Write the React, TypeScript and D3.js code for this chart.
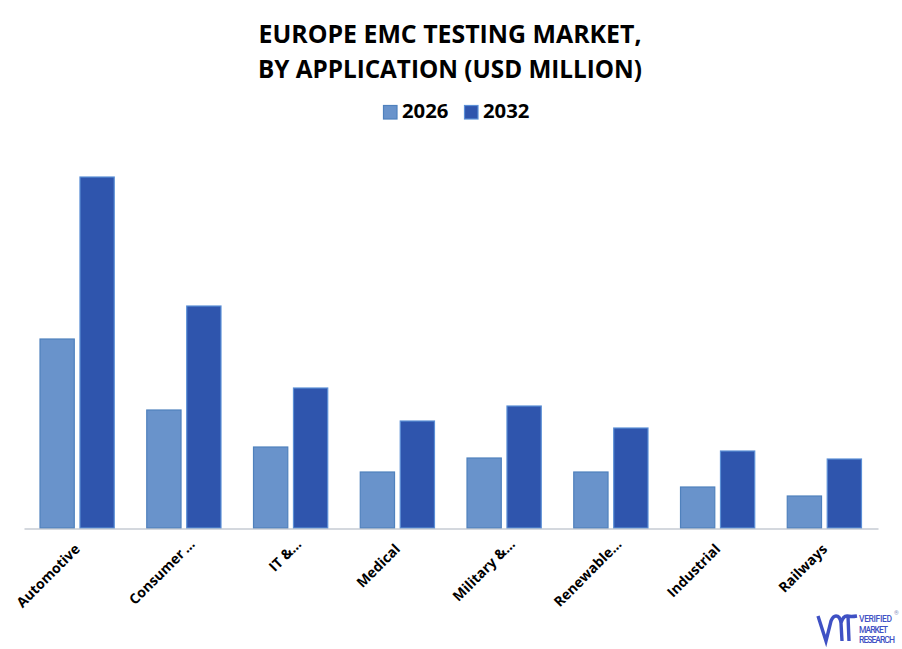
import React, { useEffect, useRef } from "react";
import * as d3 from "d3";

const categories = ["Automotive", "Consumer\u2009…", "IT &…", "Medical", "Military &…", "Renewable…", "Industrial", "Railways"];
const years = ["2026", "2032"];
const values2026 = [189, 118, 81, 56, 70, 56, 41, 32];
const values2032 = [351, 222, 140, 107, 122, 100, 77, 69];
const titleLines = ["EUROPE EMC TESTING MARKET,", "BY APPLICATION (USD MILLION)"];
const titleWidths = [383, 384];
const logoLines = ["VERIFIED", "MARKET", "RESEARCH"];
const logoWidths = [33, 29, 36];

const WIDTH = 902;
const HEIGHT = 649;
const FONT = "'Open Sans', 'Noto Sans', sans-serif";
const fills: Record<string, string> = { "2026": "#6993cb", "2032": "#2f55ad" };
const strokes: Record<string, string> = { "2026": "#4f81bd", "2032": "#5b8fd6" };

export default function App() {
  const ref = useRef<SVGSVGElement | null>(null);

  useEffect(() => {
    if (!ref.current) return;
    const svg = d3.select(ref.current);
    svg.selectAll("*").remove();

    svg.append("rect").attr("width", WIDTH).attr("height", HEIGHT).attr("fill", "#fff");

    // title
    svg
      .selectAll("text.title")
      .data(titleLines)
      .enter()
      .append("text")
      .attr("class", "title")
      .attr("x", 450)
      .attr("y", (_, i) => 43 + i * 35)
      .attr("text-anchor", "middle")
      .attr("font-family", FONT)
      .attr("font-weight", 700)
      .attr("font-size", 24.6)
      .attr("textLength", (_, i) => titleWidths[i])
      .attr("lengthAdjust", "spacingAndGlyphs")
      .attr("fill", "#000")
      .text((d) => d);

    // legend
    const legendX = [383, 464];
    const legend = svg
      .selectAll("g.legend")
      .data(years)
      .enter()
      .append("g")
      .attr("class", "legend")
      .attr("transform", (_, i) => `translate(${legendX[i]},105)`);
    legend
      .append("rect")
      .attr("x", 0.5)
      .attr("y", 0.5)
      .attr("width", 13.5)
      .attr("height", 13.5)
      .attr("fill", (d) => fills[d])
      .attr("stroke", (d) => strokes[d])
      .attr("stroke-width", 1.2);
    legend
      .append("text")
      .attr("x", 19)
      .attr("y", 13)
      .attr("font-family", FONT)
      .attr("font-weight", 700)
      .attr("font-size", 20.3)
      .attr("fill", "#000")
      .text((d) => d);

    // scales
    const x0 = d3.scaleBand<string>().domain(categories).range([24, 878]).paddingInner(0.3).paddingOuter(0.15);
    const x1 = d3.scaleBand<string>().domain(years).range([0, x0.bandwidth()]).paddingInner(0.13);
    const y = d3.scaleLinear().domain([0, 351]).range([528, 177]);

    // bars
    const groups = svg
      .selectAll("g.group")
      .data(categories)
      .enter()
      .append("g")
      .attr("class", "group")
      .attr("transform", (d) => `translate(${x0(d)},0)`);
    groups
      .selectAll("rect")
      .data((_, i) => [
        { year: "2026", value: values2026[i] },
        { year: "2032", value: values2032[i] },
      ])
      .enter()
      .append("rect")
      .attr("x", (d) => x1(d.year) ?? 0)
      .attr("y", (d) => y(d.value))
      .attr("width", x1.bandwidth() - 0.5)
      .attr("height", (d) => y(0) - y(d.value))
      .attr("fill", (d) => fills[d.year])
      .attr("stroke", (d) => strokes[d.year])
      .attr("stroke-width", 1.2);

    // x axis
    const axis = svg
      .append("g")
      .attr("transform", "translate(0,528.5)")
      .call(d3.axisBottom(x0).tickSize(0).tickPadding(0));
    axis.select(".domain").attr("stroke", "#a9b1bd").attr("stroke-width", 1.2);
    // truncated labels sit further along the slant than the whole ones
    axis
      .selectAll<SVGTextElement, string>("text")
      .attr("transform", (d) => (d.endsWith("…") ? "translate(8,13) rotate(-45)" : "translate(0,18) rotate(-45)"))
      .attr("text-anchor", "end")
      .attr("dy", "0.35em")
      .attr("x", 0)
      .attr("y", 0)
      .attr("font-family", FONT)
      .attr("font-weight", 700)
      .attr("font-size", 14)
      .attr("fill", "#000");

    // logo
    const logo = svg.append("g").attr("transform", "translate(817,614)");
    logo
      .append("path")
      .attr("d", "M1,2 L9,27 L14,7 Q16,2 19,2 Q23,2 24,9 L25,27 M24,9 Q26,2 30,2 Q34,3 40,2 M31,2 L32,27")
      .attr("fill", "none")
      .attr("stroke", "#3f51c4")
      .attr("stroke-width", 3.4);
    logo
      .selectAll("text")
      .data(logoLines)
      .enter()
      .append("text")
      .attr("x", 42)
      .attr("y", (_, i) => 8 + i * 10.5)
      .attr("font-family", "'Roboto', sans-serif")
      .attr("font-size", 8.5)
      .attr("font-weight", 500)
      .attr("textLength", (_, i) => logoWidths[i])
      .attr("fill", "#3f51c4")
      .text((d) => d);
    logo
      .append("text")
      .attr("x", 77)
      .attr("y", 1)
      .attr("font-family", "'Roboto', sans-serif")
      .attr("font-size", 6)
      .attr("fill", "#8a8fc0")
      .text("®");
  }, []);

  return <svg ref={ref} width={WIDTH} height={HEIGHT} style={{ position: "absolute", left: 0, top: 0 }} />;
}
